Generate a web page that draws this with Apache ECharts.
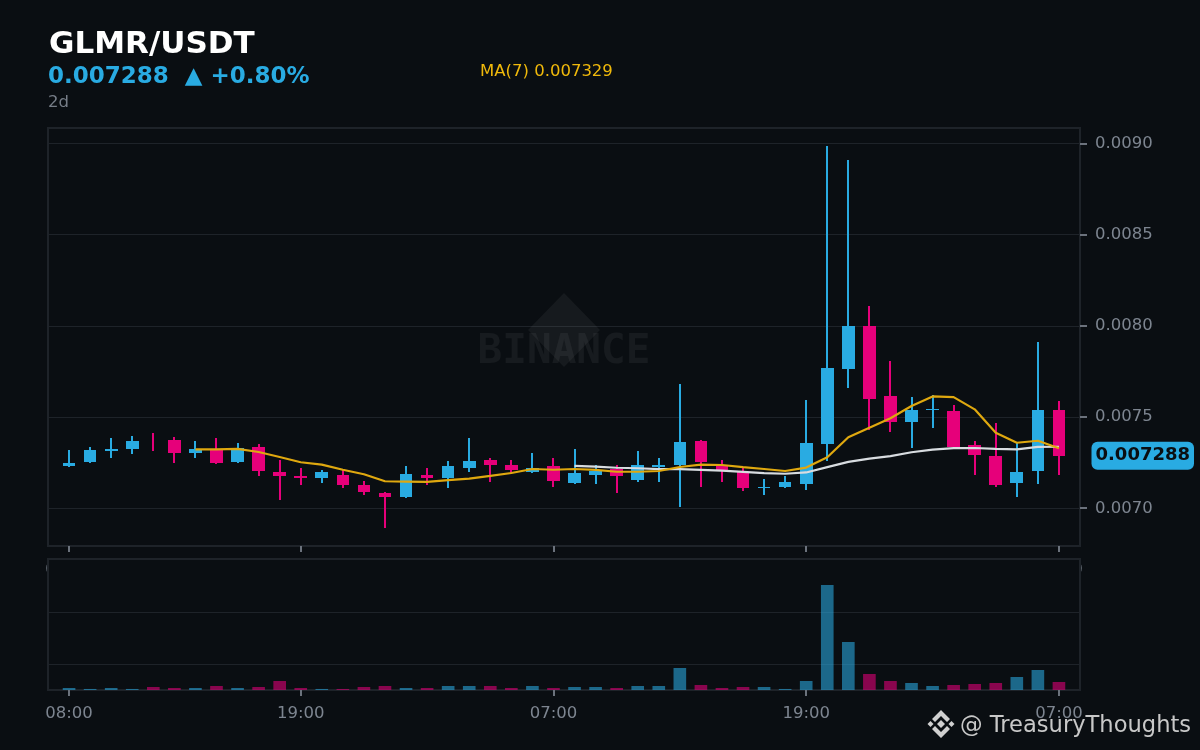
<!DOCTYPE html>
<html>
<head>
<meta charset="utf-8">
<style>html,body{margin:0;padding:0;background:#0a0e12}#c{width:1200px;height:750px}</style>
<script src="https://cdn.jsdelivr.net/npm/echarts@6/dist/echarts.min.js"></script>
</head>
<body>
<div id="c"></div>
<script>
const hours = ['08:00','09:00','10:00','11:00','12:00','13:00','14:00','15:00','16:00','17:00','18:00','19:00','20:00','21:00','22:00','23:00','00:00','01:00','02:00','03:00','04:00','05:00','06:00','07:00','08:00','09:00','10:00','11:00','12:00','13:00','14:00','15:00','16:00','17:00','18:00','19:00','20:00','21:00','22:00','23:00','00:00','01:00','02:00','03:00','04:00','05:00','06:00','07:00'];
const labelledHours = [0, 11, 23, 35, 47];
const opens  = [.007232,.007254,.007314,.007325,.007360,.007374,.007303,.007325,.007254,.007336,.007199,.007177,.007166,.007182,.007128,.007084,.007062,.007182,.007166,.007221,.007264,.007237,.007199,.007232,.007139,.007182,.007215,.007155,.007226,.007237,.007369,.007237,.007199,.007114,.007117,.007133,.007352,.007763,.007998,.007615,.007473,.007541,.007533,.007347,.007286,.007139,.007204,.007538];
const closes = [.007248,.007319,.007325,.007369,.007360,.007303,.007325,.007248,.007330,.007204,.007177,.007166,.007199,.007128,.007089,.007062,.007188,.007166,.007232,.007259,.007237,.007210,.007221,.007149,.007193,.007204,.007177,.007237,.007237,.007363,.007254,.007210,.007111,.007119,.007144,.007358,.007768,.007998,.007599,.007473,.007538,.007546,.007336,.007292,.007128,.007199,.007538,.007288];
const lows   = [.007226,.007248,.007275,.007297,.007314,.007248,.007275,.007243,.007248,.007177,.007045,.007128,.007139,.007111,.007073,.006892,.007056,.007128,.007111,.007199,.007144,.007193,.007193,.007117,.007133,.007133,.007084,.007144,.007144,.007007,.007117,.007144,.007095,.007073,.007111,.007100,.007259,.007659,.007429,.007418,.007330,.007440,.007336,.007182,.007117,.007062,.007133,.007182];
const highs  = [.007319,.007336,.007385,.007396,.007412,.007390,.007369,.007385,.007358,.007352,.007264,.007221,.007210,.007210,.007149,.007089,.007232,.007221,.007259,.007385,.007275,.007264,.007303,.007275,.007325,.007237,.007237,.007314,.007275,.007681,.007374,.007264,.007226,.007160,.007177,.007593,.008984,.008907,.008108,.007807,.007609,.007620,.007566,.007369,.007467,.007358,.007911,.007588];
const volumes = [.077,.04,.077,.04,.115,.077,.077,.154,.077,.115,.346,.077,.04,.04,.115,.154,.077,.077,.154,.154,.154,.077,.154,.077,.115,.115,.077,.154,.154,.846,.192,.077,.115,.115,.04,.346,4.04,1.846,.615,.346,.269,.154,.192,.23,.269,.5,.77,.308];
const ma7  = [null,null,null,null,null,null,.007323,.007323,.007325,.007308,.007281,.007252,.007239,.007211,.007186,.007148,.007146,.007144,.007154,.007162,.007177,.007193,.007215,.007211,.007215,.007210,.007200,.007200,.007204,.007226,.007239,.007237,.007225,.007215,.007204,.007223,.007279,.007389,.007441,.007493,.007560,.007613,.007609,.007542,.007414,.007359,.007370,.007329];
const ma25 = [null,null,null,null,null,null,null,null,null,null,null,null,null,null,null,null,null,null,null,null,null,null,null,null,.007232,.007228,.007222,.007219,.007214,.007214,.007210,.007206,.007199,.007192,.007189,.007196,.007225,.007254,.007272,.007286,.007307,.007321,.007329,.007330,.007325,.007323,.007336,.007337];
const priceTicks = [.007,.0075,.008,.0085,.009];
const volumeLines = [1, 3];
const lastPrice = .007288;

const BG = '#0a0e12', UP = '#29abe2', DOWN = '#e6007a', GRID = '#1e2329', TXT = '#7d8590', TICK = '#6b727c';
const pad = a => [null, ...a, null];
const cats = ['', ...hours, ''];
const labelled = new Set(labelledHours.map(i => i + 1));
const showIdx = idx => labelled.has(idx);
const F = 'DejaVu Sans';
const isUp = i => closes[i] > opens[i] || (closes[i] === opens[i] && i > 0 && closes[i] >= closes[i - 1]);

const candleData = hours.map((_, i) => [i + 1, opens[i], closes[i], lows[i], highs[i]]);
function renderCandle(params, api) {
  const idx = api.value(0), o = api.value(1), c = api.value(2), l = api.value(3), h = api.value(4);
  const band = api.size([1, 0])[0];
  const half = band * 0.3;
  const cx = api.coord([idx, o])[0];
  const yO = Math.round(api.coord([idx, o])[1]);
  const yC = Math.round(api.coord([idx, c])[1]);
  const yL = Math.round(api.coord([idx, l])[1]);
  const yH = Math.round(api.coord([idx, h])[1]);
  const fill = isUp(params.dataIndex) ? UP : DOWN;
  const left = Math.round(cx - half), right = Math.round(cx + half);
  const children = [{ type: 'rect', shape: { x: Math.round(cx - 1), y: yH, width: 2, height: yL - yH }, style: { fill } }];
  if (o !== c) {
    const top = Math.min(yO, yC);
    children.push({ type: 'rect', shape: { x: left, y: top, width: right - left, height: Math.max(1, Math.abs(yO - yC)) }, style: { fill } });
  }
  return { type: 'group', children };
}

const txt = (x, y, text, size, fill, weight) => ({
  type: 'text', x, y, z: 20, silent: true,
  style: { text, font: (weight || 'normal') + ' ' + size + 'px "' + F + '"', fill, textVerticalAlign: 'middle' }
});
const diamond = (cx, cy, r, fill) => ({ type: 'polygon', z: 20, silent: true,
  shape: { points: [[cx, cy - r], [cx + r, cy], [cx, cy + r], [cx - r, cy]] }, style: { fill } });
const poly = (pts, fill) => ({ type: 'polygon', z: 20, silent: true, shape: { points: pts }, style: { fill } });

const chart = echarts.init(document.getElementById('c'), null, { renderer: 'canvas' });
chart.setOption({
  animation: false,
  backgroundColor: BG,
  textStyle: { fontFamily: F },
  graphic: [
    txt(49, 45, 'GLMR/USDT', 31, '#ffffff', 'bold'),
    txt(48, 77, '0.007288  ▲ +0.80%', 23, UP, 'bold'),
    txt(48, 103, '2d', 16.5, '#767d87'),
    txt(480, 72, 'MA(7) 0.007329', 16.5, '#f0b90b'),
    { type: 'polygon', z: 1, silent: true, shape: { points: [[564,293],[600,330],[564,367],[528,330]] }, style: { fill: 'rgba(255,255,255,0.05)' } },
    { type: 'text', x: 564, y: 352, z: 1, silent: true, style: { text: 'BINANCE', font: 'bold 41px "DejaVu Sans Mono"', fill: 'rgba(255,255,255,0.055)', textAlign: 'center', textVerticalAlign: 'middle' } },
    diamond(941, 724, 4, '#d0d0d0'),
    diamond(930.5, 724, 3, '#d0d0d0'),
    diamond(951.5, 724, 3, '#d0d0d0'),
    poly([[941,710],[950,719],[947,722],[941,716],[935,722],[932,719]], '#d0d0d0'),
    poly([[941,738],[950,729],[947,726],[941,732],[935,726],[932,729]], '#d0d0d0'),
    txt(960, 726, '@ TreasuryThoughts', 22.6, '#c8c8c8')
  ],
  grid: [
    { left: 48, width: 1032, top: 128, height: 418, show: true, borderColor: GRID, borderWidth: 2, backgroundColor: 'transparent', z: 0 },
    { left: 48, width: 1032, top: 559, height: 131, show: true, borderColor: GRID, borderWidth: 2, backgroundColor: BG, z: 1 }
  ],
  xAxis: [
    { type: 'category', gridIndex: 0, data: cats, boundaryGap: false, z: 0,
      axisLine: { show: false },
      axisTick: { show: true, length: 6, interval: showIdx, lineStyle: { color: TICK, width: 2 } },
      axisLabel: { show: true, interval: showIdx, color: TXT, fontSize: 16.5, margin: 15, fontFamily: F },
      splitLine: { show: false } },
    { type: 'category', gridIndex: 1, data: cats, boundaryGap: false, z: 2,
      axisLine: { show: false },
      axisTick: { show: true, length: 6, interval: showIdx, lineStyle: { color: TICK, width: 2 } },
      axisLabel: { show: true, interval: showIdx, color: TXT, fontSize: 16.5, margin: 15, fontFamily: F },
      splitLine: { show: false } }
  ],
  yAxis: [
    { type: 'value', gridIndex: 0, position: 'right', min: .006793, max: .009084, z: 0,
      axisLine: { show: false },
      axisTick: { show: true, length: 7, customValues: priceTicks, lineStyle: { color: TICK, width: 2 } },
      axisLabel: { customValues: priceTicks, color: TXT, fontSize: 16.5, margin: 15, padding: [2, 0, 0, 0], fontFamily: F, formatter: v => v.toFixed(4) },
      splitLine: { show: true, lineStyle: { color: GRID, width: 1 } } },
    { type: 'value', gridIndex: 1, position: 'right', min: 0, max: 5.04, z: 2,
      axisLine: { show: false },
      axisTick: { show: false, customValues: volumeLines },
      axisLabel: { show: false },
      splitLine: { show: true, lineStyle: { color: GRID, width: 1 } } }
  ],
  series: [
    { type: 'custom', name: 'Price', xAxisIndex: 0, yAxisIndex: 0, data: candleData, renderItem: renderCandle, z: 2,
      encode: { x: 0, y: [1, 2, 3, 4] }, clip: false },
    { type: 'line', name: 'MA25', xAxisIndex: 0, yAxisIndex: 0, data: pad(ma25), showSymbol: false, symbol: 'none', z: 3,
      lineStyle: { color: '#d8dce0', width: 2.2 } },
    { type: 'line', name: 'MA7', xAxisIndex: 0, yAxisIndex: 0, data: pad(ma7), showSymbol: false, symbol: 'none', z: 3,
      lineStyle: { color: '#dfa80f', width: 2.2 } },
    { type: 'scatter', name: 'Last price', xAxisIndex: 0, yAxisIndex: 0, data: [[cats.length - 1, lastPrice]], symbolSize: 1, clip: false, z: 5, silent: true,
      itemStyle: { color: 'rgba(0,0,0,0)', opacity: 1 },
      label: { show: true, position: 'right', distance: 11, opacity: 1, formatter: () => lastPrice.toFixed(6),
        backgroundColor: UP, color: BG, fontWeight: 'bold', fontSize: 18, fontFamily: F, padding: [5, 4, 5, 4], borderRadius: 6 } },
    { type: 'bar', name: 'Volume', xAxisIndex: 1, yAxisIndex: 1, barWidth: 12.64, z: 2,
      data: pad(volumes).map((v, k) => v == null ? null : {
        value: v,
        itemStyle: { color: isUp(k - 1) ? UP : DOWN, opacity: 0.58 }
      }) }
  ]
});
</script>
</body>
</html>
